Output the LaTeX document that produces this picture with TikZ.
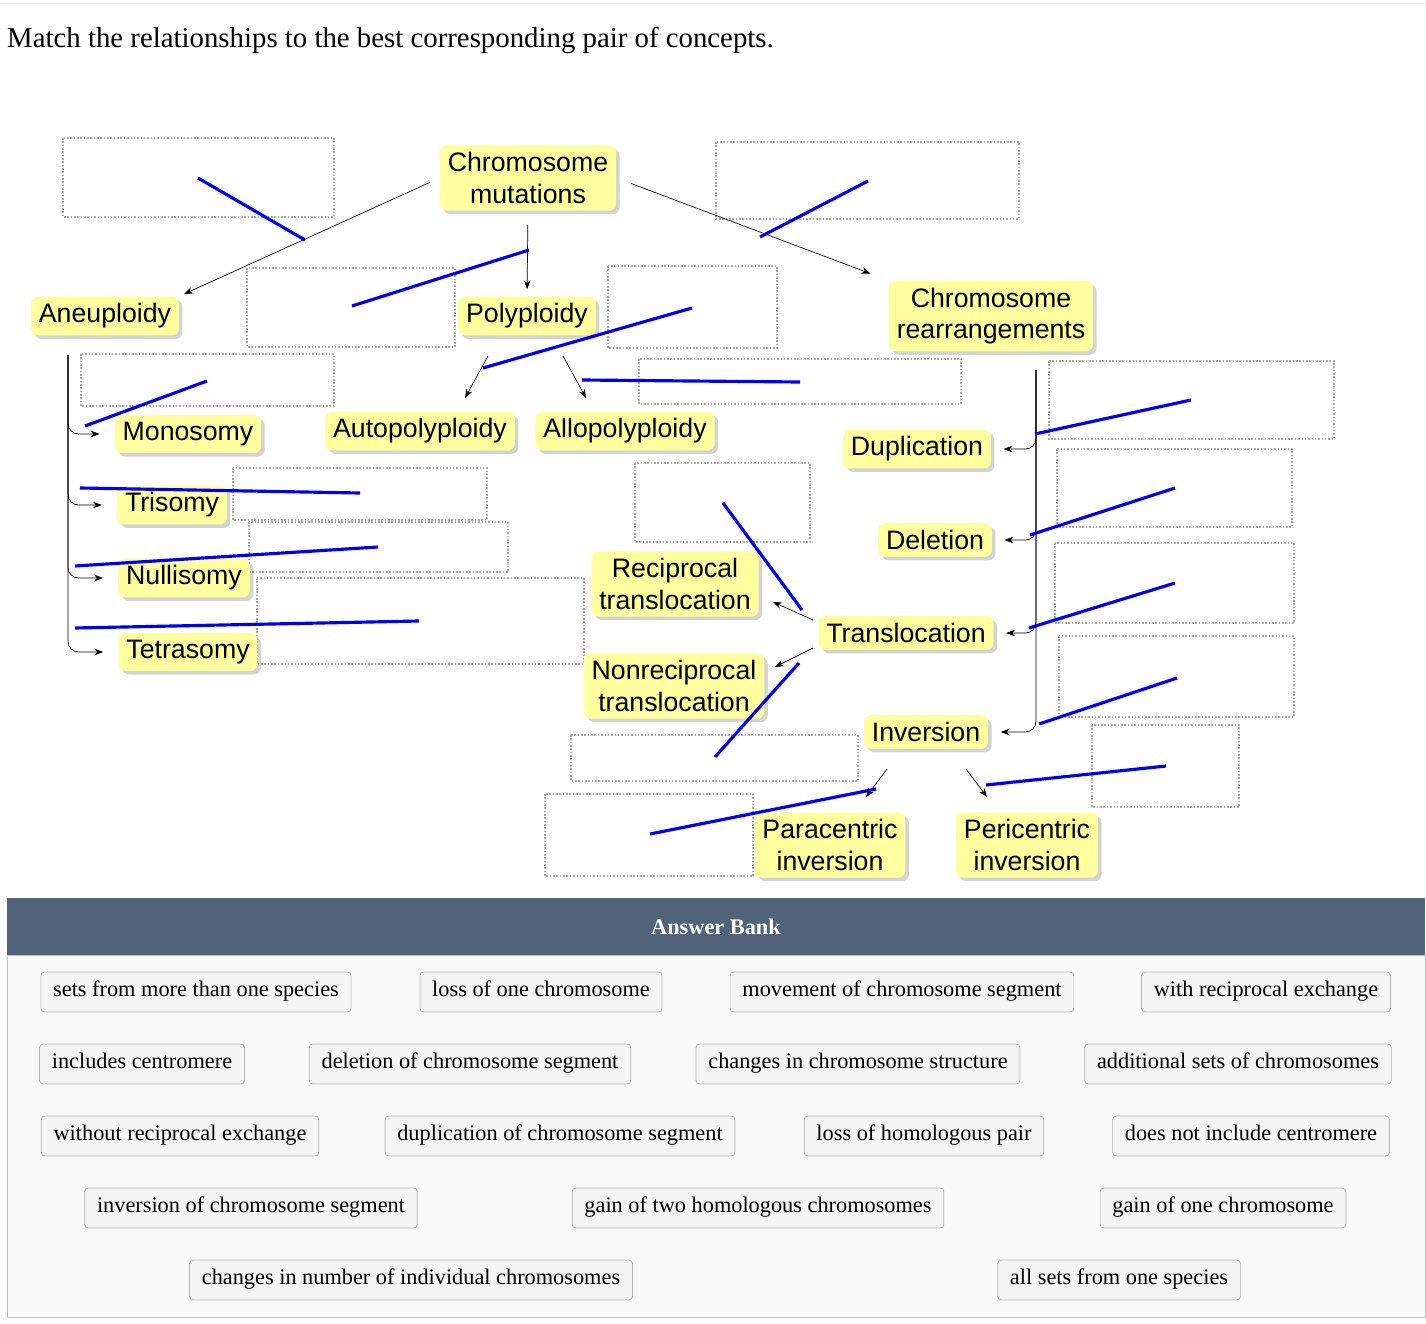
\documentclass[tikz,border=0pt]{standalone}
\usepackage{fontspec}
\setmainfont{Liberation Serif}
\newfontfamily\sansf{Liberation Sans}
\usetikzlibrary{arrows.meta,shadows}
\definecolor{conc}{HTML}{FFFFA0}
\definecolor{bankhead}{HTML}{506378}
\definecolor{answer}{HTML}{0000EE}
\begin{document}
\begin{tikzpicture}[x=0.02cm,y=-0.02cm,
    concept/.style={fill=conc,rounded corners=4pt,align=center,inner xsep=4.5pt,inner ysep=4pt,
        font=\sansf\fontsize{15.2}{18}\selectfont,
        drop shadow={opacity=0.35,shadow xshift=2pt,shadow yshift=-2pt}},
    slot/.style={draw=gray!70,densely dotted,line width=0.9pt},
    blank/.style={draw=answer,line width=1.8pt},
    link/.style={-{Stealth[length=5pt]},thin},
    chip/.style={draw=gray!60,fill=gray!8,rounded corners=2pt,inner xsep=7pt,minimum height=0.8cm,
        text height=1.6ex,text depth=0.4ex,font=\fontsize{12.7}{14}\selectfont}]
    \useasboundingbox (0,0) rectangle (1426,1324);
    \draw[gray!15] (0,3) -- (1426,3);
    \node[anchor=west,font=\fontsize{16.4}{19}\selectfont] (title) at (1,40) {Match the relationships to the best corresponding pair of concepts.};

    % empty slots
    \foreach \a/\b/\c/\d in {63/138/334/217, 716/142/1019/219, 247/268/455/347, 608/266/777/348,
        81/354/334/406, 639/359/961/404, 1049/361/1334/439, 233/468/487/520, 635/463/810/542,
        1057/449/1292/527, 249/522/508/572, 1055/543/1294/623, 257/578/584/664, 1059/636/1294/717,
        571/735/858/781, 1092/725/1239/807, 545/794/753/876}
        \draw[slot] (\a,\b) rectangle (\c,\d);

    % concepts
    \begin{scope}[every node/.style={concept}]
        \node (mut) at (528,178) {Chromosome\\mutations};
        \node (aneu) at (105,316) {Aneuploidy};
        \node (poly) at (527,316) {Polyploidy};
        \node (rear) at (991,316) {Chromosome\\rearrangements};
        \node (mono) at (188,434) {Monosomy};
        \node (auto) at (420,431) {Autopolyploidy};
        \node (allo) at (625,431) {Allopolyploidy};
        \node (dupl) at (917,449) {Duplication};
        \node (tri) at (172,505) {Trisomy};
        \node (dele) at (935,540) {Deletion};
        \node (nulli) at (184,578) {Nullisomy};
        \node (tetra) at (188,652) {Tetrasomy};
        \node (recip) at (675,584) {Reciprocal\\translocation};
        \node (trans) at (906,633) {Translocation};
        \node (nonrec) at (674,686) {Nonreciprocal\\translocation};
        \node (inv) at (926,732) {Inversion};
        \node (para) at (830,845) {Paracentric\\inversion};
        \node (peri) at (1027,845) {Pericentric\\inversion};
    \end{scope}

    % connectors
    \coordinate (aneub) at (68,355);
    \coordinate (rearb) at (1036,370);
    \coordinate (polyl) at (488,356);
    \coordinate (polyr) at (563,356);
    \coordinate (autot) at (465,398);
    \coordinate (allot) at (586,398);
    \coordinate (transu) at (813,620);
    \coordinate (transd) at (813,648);
    \coordinate (recipt) at (773,602);
    \coordinate (nonrect) at (775,667);
    \coordinate (invl) at (887,769);
    \coordinate (invr) at (966,769);
    \coordinate (parat) at (866,797);
    \coordinate (perit) at (987,797);
    \begin{scope}[every path/.style={link}]
        \draw[shorten <=6pt,shorten >=3pt] (mut.west) -- (aneu.north east);
        \draw[shorten <=9pt,shorten >=11pt] (mut.east) -- (rear.north west);
        \draw[shorten <=8pt,shorten >=4pt] (mut.south) -- (poly.north);
        \draw (polyl) -- (autot);
        \draw (polyr) -- (allot);
        \foreach \n in {mono,tri,nulli,tetra}
            \draw[rounded corners=6pt,shorten >=8.5pt] (aneub) |- (\n.west);
        \foreach \n in {dupl,dele,trans,inv}
            \draw[rounded corners=6pt,shorten >=7pt] (rearb) |- (\n.east);
        \draw (transu) -- (recipt);
        \draw (transd) -- (nonrect);
        \draw (invl) -- (parat);
        \draw (invr) -- (perit);
    \end{scope}

    % answer lines
    \foreach \a/\b/\c/\d in {198/178/305/240, 760/237/868/181, 352/306/529/250, 483/368/692/308,
        85/426/207/381, 582/380/800/382, 1035/434/1191/400, 80/488/360/493, 723/503/802/610,
        1030/535/1175/488, 75/566/378/547, 1029/628/1175/583, 75/628/419/621, 715/757/799/663,
        1039/724/1177/678, 986/785/1166/766, 650/834/876/789}
        \draw[blank] (\a,\b) -- (\c,\d);

    % answer bank
    \draw[gray!50,fill=gray!5] (7,955) rectangle (1425,1317);
    \fill[bankhead] (7,898) rectangle (1425,955);
    \node[text=white,font=\bfseries\fontsize{12.7}{14}\selectfont] (bank) at (716,927) {Answer Bank};
    \begin{scope}[every node/.style={chip}]
        \node (c1) at (196,992) {sets from more than one species};
        \node (c2) at (541,992) {loss of one chromosome};
        \node (c3) at (902,992) {movement of chromosome segment};
        \node (c4) at (1266,992) {with reciprocal exchange};
        \node (c5) at (142,1064) {includes centromere};
        \node (c6) at (470,1064) {deletion of chromosome segment};
        \node (c7) at (858,1064) {changes in chromosome structure};
        \node (c8) at (1238,1064) {additional sets of chromosomes};
        \node (c9) at (180,1136) {without reciprocal exchange};
        \node (c10) at (560,1136) {duplication of chromosome segment};
        \node (c11) at (924,1136) {loss of homologous pair};
        \node (c12) at (1251,1136) {does not include centromere};
        \node (c13) at (251,1208) {inversion of chromosome segment};
        \node (c14) at (758,1208) {gain of two homologous chromosomes};
        \node (c15) at (1223,1208) {gain of one chromosome};
        \node (c16) at (411,1280) {changes in number of individual chromosomes};
        \node (c17) at (1119,1280) {all sets from one species};
    \end{scope}
\end{tikzpicture}
\end{document}
